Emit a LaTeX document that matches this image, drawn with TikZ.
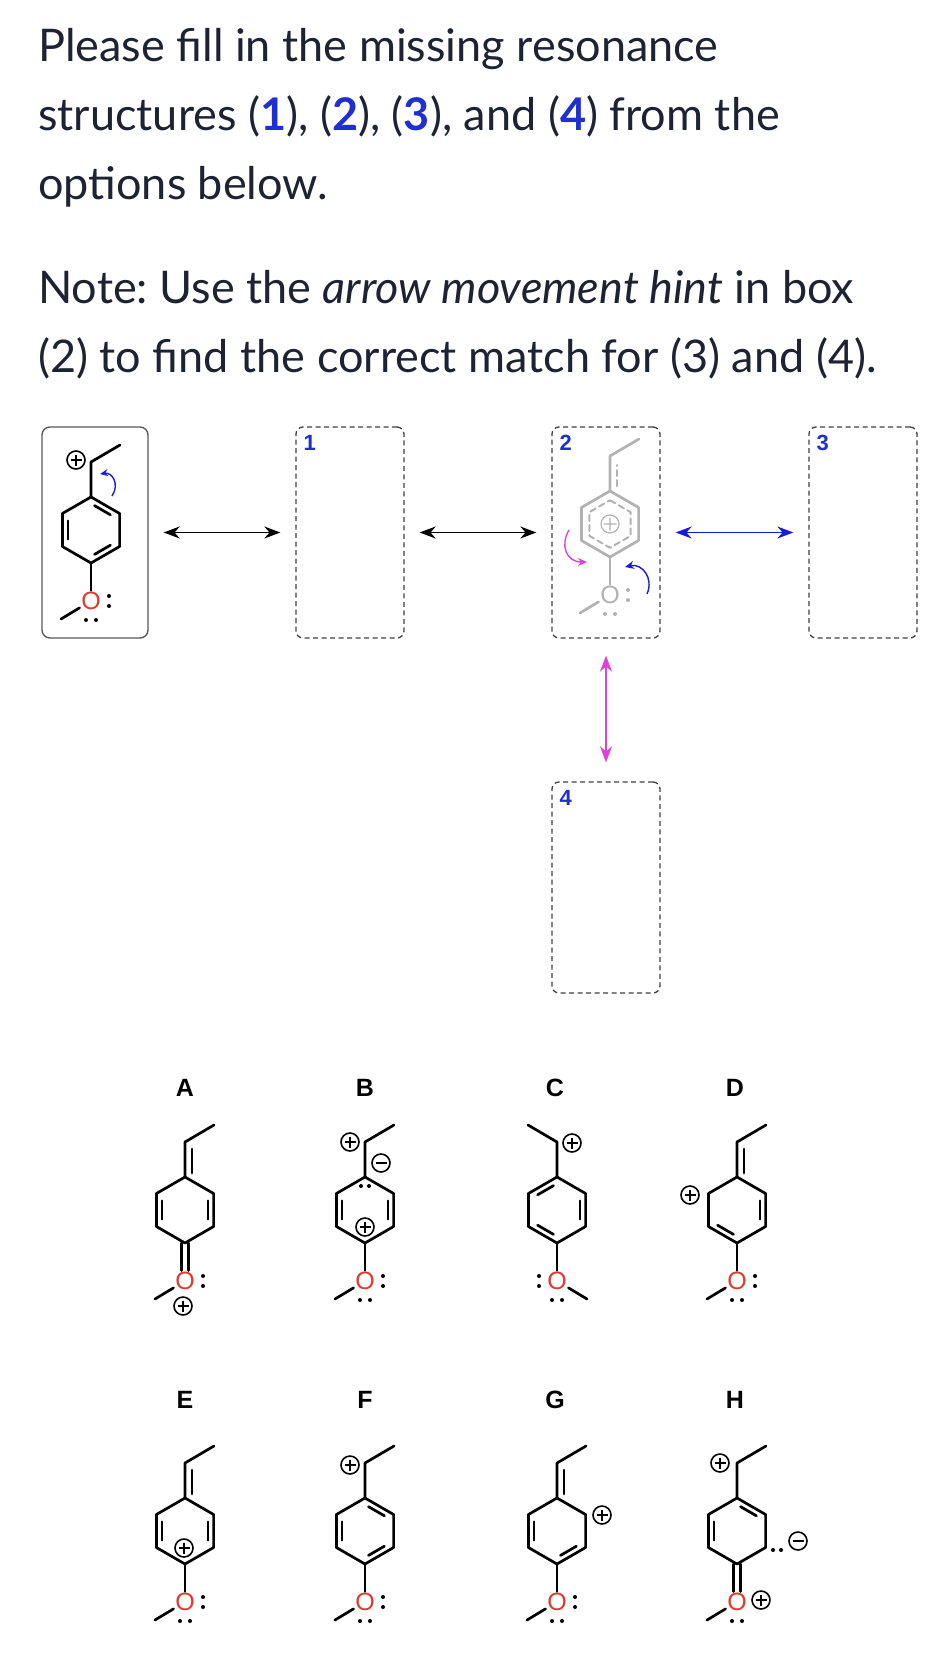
\documentclass[tikz,border=0pt]{standalone}
\usepackage{fontspec}
\setmainfont{Lato}
\newfontfamily\arialf{Liberation Sans}
\usetikzlibrary{arrows.meta,calc}
\frenchspacing
\definecolor{navy}{HTML}{1D2333}
\definecolor{numblue}{HTML}{1F2FD0}
\definecolor{ored}{HTML}{E03A2E}
\definecolor{pinkm}{HTML}{E040E0}
\definecolor{arrblue}{HTML}{1A1AD8}
\tikzset{
  bond/.style={line width=2.7pt,line cap=round,line join=round},
  innerb/.style={bond,shorten <=4pt,shorten >=4pt},
  titletxt/.style={anchor=base west,inner sep=0pt,text=navy,font=\fontsize{45}{54}\selectfont},
  atomO/.style={inner sep=1.5pt,font=\arialf\fontsize{25}{25}\selectfont,text=ored},
  optlbl/.style={font=\arialf\bfseries\fontsize{25}{25}\selectfont},
  boxlbl/.style={anchor=north west,inner sep=0pt,font=\arialf\bfseries\fontsize{22}{22}\selectfont,text=numblue},
  dbox/.style={draw=black!75,dashed,dash pattern=on 5pt off 3.5pt,line width=1.3pt,rounded corners=7pt,minimum width=108pt,minimum height=211pt,inner sep=0pt},
  sbox/.style={draw=black!65,line width=1.4pt,rounded corners=8pt,minimum width=106pt,minimum height=211pt,inner sep=0pt},
  resarr/.style={line width=1.5pt,{Stealth[length=16pt,width=12pt]}-{Stealth[length=16pt,width=12pt]},shorten <=15pt,shorten >=15pt},
  pics/pluscirc/.style={code={\draw[line width=1.6pt] (0,0) circle (9);
     \draw[line width=1.8pt] (-5.5,0)--(5.5,0) (0,-5.5)--(0,5.5);}},
  pics/minuscirc/.style={code={\draw[line width=1.6pt] (0,0) circle (9);
     \draw[line width=1.8pt] (-5.5,0)--(5.5,0);}},
}
\newcommand\ringat[3]{%
  \coordinate (#3c) at (#1,#2);
  \coordinate (#3t) at (#1,#2-33);
  \coordinate (#3ur) at (#1+28.6,#2-16.5);
  \coordinate (#3lr) at (#1+28.6,#2+16.5);
  \coordinate (#3b) at (#1,#2+33);
  \coordinate (#3ll) at (#1-28.6,#2+16.5);
  \coordinate (#3ul) at (#1-28.6,#2-16.5);
  \coordinate (#3s) at (#1,#2-68);
  \coordinate (#3e) at (#1+29,#2-85);
  \coordinate (#3eL) at (#1-29,#2-85);
  \coordinate (#3me) at (#1-30,#2+89);
  \coordinate (#3meR) at (#1+30,#2+89);
  \draw[bond] (#3t)--(#3ur)--(#3lr)--(#3b)--(#3ll)--(#3ul)--cycle;}
\newcommand\dbl[3]{\draw[innerb] ($(#1)!0.2!(#3)$) -- ($(#2)!0.2!(#3)$);}
\newcommand\subsingle[1]{\draw[bond] (#1t)--(#1s)--(#1e);}
\newcommand\subexo[1]{\draw[bond] (#1t)--(#1s)--(#1e);
  \draw[bond,shorten <=4pt,shorten >=3pt] ($(#1t)+(7,0)$)--($(#1s)+(7,4)$);}
\newcommand\oxy[3]{%
  \node[atomO] (#3O) at (#1,#2+71) {O};
  \draw[bond] (#3b)--(#3O);
  \draw[bond] (#3O)--(#3me);}
\newcommand\lpright[1]{\fill ($(#1O)+(18,-5)$) circle (2) ($(#1O)+(18,5)$) circle (2);}
\newcommand\lpleft[1]{\fill ($(#1O)+(-18,-5)$) circle (2) ($(#1O)+(-18,5)$) circle (2);}
\newcommand\lpbelow[1]{\fill ($(#1O)+(-5,19)$) circle (2) ($(#1O)+(5,19)$) circle (2);}
\begin{document}
\begin{tikzpicture}[x=1pt,y=-1pt]
\useasboundingbox (0,0) rectangle (949,1662);
\node[titletxt] (l1) at (38,62) {Please fill in the missing resonance};
\node[titletxt] (l2) at (38,130) {structures (\textcolor{numblue}{\textbf{1}}), (\textcolor{numblue}{\textbf{2}}), (\textcolor{numblue}{\textbf{3}}), and (\textcolor{numblue}{\textbf{4}}) from the};
\node[titletxt] (l3) at (38,199) {options below.};
\node[titletxt] (l4) at (38,303) {Note: Use the \textit{arrow movement hint} in box};
\node[titletxt] (l5) at (38,372) {(2) to find the correct match for (3) and (4).};

\node[sbox] (b0) at (95,532.5) {};
\node[dbox] (b1) at (350,532.5) {};
\node[dbox] (b2) at (606,532.5) {};
\node[dbox] (b3) at (863,532.5) {};
\node[dbox] (b4) at (606,887.5) {};
\node[boxlbl] (n1) at ($(b1.north west)+(8,9)$) {1};
\node[boxlbl] (n2) at ($(b2.north west)+(8,9)$) {2};
\node[boxlbl] (n3) at ($(b3.north west)+(8,9)$) {3};
\node[boxlbl] (n4) at ($(b4.north west)+(8,9)$) {4};
\draw[resarr] (b0.east) -- (b1.west);
\draw[resarr] (b1.east) -- (b2.west);
\draw[resarr,draw=arrblue,fill=arrblue] (b2.east) -- (b3.west);
\draw[resarr,draw=pinkm,fill=pinkm,shorten <=17pt,shorten >=19pt] (b2.south) -- (b4.north);

\ringat{91}{530}{m}
\dbl{mt}{mur}{mc}\dbl{mll}{mul}{mc}\dbl{mlr}{mb}{mc}
\subsingle{m}
\pic at (76,460) {pluscirc};
\oxy{91}{530}{m}\lpright{m}\lpbelow{m}
\draw[arrblue,line width=1.4pt,-{Stealth[length=8pt,width=7pt]}] (112,496) .. controls (120,484) and (112,472) .. (100,474);

\begin{scope}[black!30]
\ringat{610}{524}{h}
\draw[bond,black!30,dashed,dash pattern=on 6pt off 4pt,line width=2pt] ($(hc)!0.72!(ht)$)--($(hc)!0.72!(hur)$)--($(hc)!0.72!(hlr)$)--($(hc)!0.72!(hb)$)--($(hc)!0.72!(hll)$)--($(hc)!0.72!(hul)$)--cycle;
\draw[bond,black!30] (ht)--(hs)--(he);
\draw[bond,black!30,dashed,dash pattern=on 6pt off 4pt,line width=2pt,shorten <=5pt,shorten >=5pt] ($(ht)+(7,0)$)--($(hs)+(7,4)$);
\draw[black!30,line width=1.2pt] (hc) circle (9) (603.5,524)--(616.5,524) (610,517.5)--(610,530.5);
\node[atomO,text=black!30] (hO) at (610,595) {O};
\draw[bond,black!30] (hb)--(hO);
\draw[bond,black!30] (hO)--(580,613);
\fill[black!30] ($(hO)+(18,-5)$) circle (2) ($(hO)+(18,5)$) circle (2) ($(hO)+(-5,19)$) circle (2) ($(hO)+(5,19)$) circle (2);
\end{scope}
\draw[pinkm,line width=1.4pt,-{Stealth[length=9pt,width=8pt]}] (569,530) .. controls (560,545) and (566,562) .. (587,562);
\draw[arrblue,line width=1.4pt,-{Stealth[length=9pt,width=8pt]}] (647,594) .. controls (654,578) and (642,563) .. (625,567);

\node[optlbl] (LA) at (185,1088) {A};
\node[optlbl] (LB) at (365,1088) {B};
\node[optlbl] (LC) at (555,1088) {C};
\node[optlbl] (LD) at (735,1088) {D};
\node[optlbl] (LE) at (185,1400) {E};
\node[optlbl] (LF) at (365,1400) {F};
\node[optlbl] (LG) at (555,1400) {G};
\node[optlbl] (LH) at (735,1400) {H};

\ringat{185}{1210}{a}
\dbl{aul}{all}{ac}\dbl{aur}{alr}{ac}
\subexo{a}
\node[atomO] (aO) at (185,1281) {O};
\draw[bond] ($(ab)+(-3.5,0)$)--($(aO.north)+(-3.5,0)$) ($(ab)+(3.5,0)$)--($(aO.north)+(3.5,0)$);
\draw[bond] (aO)--(ame);
\lpright{a}
\pic at (183,1306) {pluscirc};

\ringat{365}{1210}{bb}
\dbl{bbul}{bbll}{bbc}\dbl{bbur}{bblr}{bbc}
\subsingle{bb}
\pic at (350,1142) {pluscirc};
\pic at (381,1163) {minuscirc};
\fill (361,1186) circle (2) (369,1186) circle (2);
\pic at (365,1227) {pluscirc};
\oxy{365}{1210}{bb}\lpright{bb}\lpbelow{bb}

\ringat{557}{1210}{cc}
\dbl{cct}{ccul}{ccc}\dbl{ccur}{cclr}{ccc}\dbl{ccll}{ccb}{ccc}
\draw[bond] (cct)--(ccs)--(cceL);
\pic at (572,1143) {pluscirc};
\node[atomO] (ccO) at (557,1281) {O};
\draw[bond] (ccb)--(ccO);
\draw[bond] (ccO)--(ccmeR);
\lpleft{cc}\lpbelow{cc}

\ringat{737}{1210}{d}
\dbl{dur}{dlr}{dc}\dbl{dll}{db}{dc}
\subexo{d}
\pic at (690,1195) {pluscirc};
\oxy{737}{1210}{d}\lpright{d}\lpbelow{d}

\ringat{185}{1531}{ee}
\dbl{eeul}{eell}{eec}\dbl{eeur}{eelr}{eec}
\subexo{ee}
\pic at (184,1548) {pluscirc};
\oxy{185}{1531}{ee}\lpright{ee}\lpbelow{ee}

\ringat{365}{1531}{f}
\dbl{ft}{fur}{fc}\dbl{fll}{ful}{fc}\dbl{flr}{fb}{fc}
\subsingle{f}
\pic at (350,1465) {pluscirc};
\oxy{365}{1531}{f}\lpright{f}\lpbelow{f}

\ringat{557}{1531}{g}
\dbl{gul}{gll}{gc}\dbl{glr}{gb}{gc}
\subexo{g}
\pic at (602,1515) {pluscirc};
\oxy{557}{1531}{g}\lpright{g}\lpbelow{g}

\ringat{737}{1531}{hh}
\dbl{hht}{hhur}{hhc}\dbl{hhul}{hhll}{hhc}
\subsingle{hh}
\pic at (720,1463) {pluscirc};
\node[atomO] (hhO) at (737,1602) {O};
\draw[bond] ($(hhb)+(-3.5,0)$)--($(hhO.north)+(-3.5,0)$) ($(hhb)+(3.5,0)$)--($(hhO.north)+(3.5,0)$);
\draw[bond] (hhO)--(hhme);
\lpbelow{hh}
\pic at (761,1600) {pluscirc};
\fill (773,1550) circle (2) (781,1550) circle (2);
\pic at (798,1541) {minuscirc};
\end{tikzpicture}
\end{document}
